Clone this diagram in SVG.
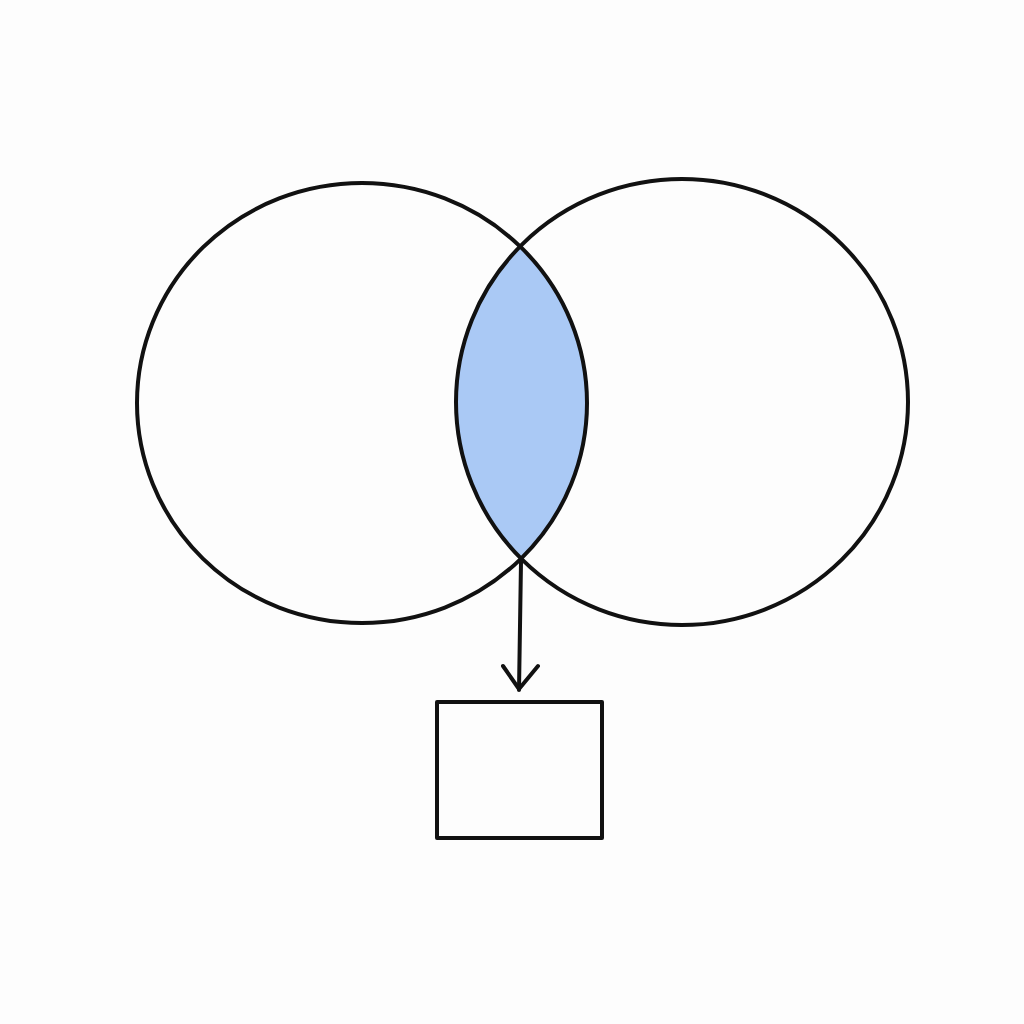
<svg xmlns="http://www.w3.org/2000/svg" width="1024" height="1024" viewBox="0 0 1024 1024">
<style>
.ln{fill:none;stroke:#111;stroke-width:4;stroke-linecap:round;stroke-linejoin:round}
</style>
<defs>
<clipPath id="clipL"><ellipse cx="362" cy="403" rx="225" ry="220"/></clipPath>
</defs>
<rect width="1024" height="1024" fill="#fdfdfd"/>
<g id="lens">
<ellipse cx="682" cy="402" rx="226" ry="223" fill="#aac9f5" clip-path="url(#clipL)"/>
</g>
<g id="circleA"><ellipse class="ln" cx="362" cy="403" rx="225" ry="220"/></g>
<g id="circleB"><ellipse class="ln" cx="682" cy="402" rx="226" ry="223"/></g>
<g id="box"><rect class="ln" x="437" y="702" width="165" height="136"/></g>
<g id="connectors">
<path class="ln" d="M521 562 L519 690"/>
<path class="ln" d="M503 666 L519 689 L538 666"/>
</g>
</svg>
